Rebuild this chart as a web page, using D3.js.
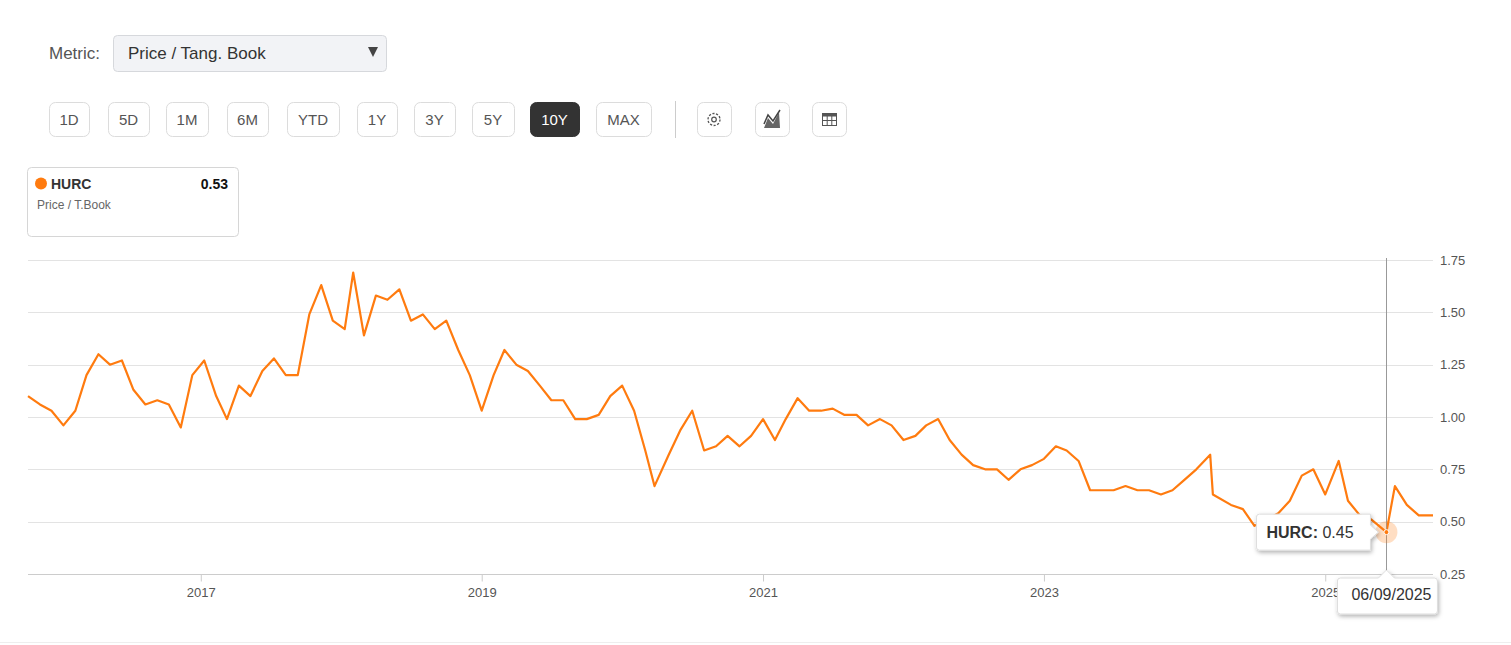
<!DOCTYPE html>
<html lang="en">
<head>
<meta charset="utf-8">
<title>HURC Price / Tang. Book</title>
<script src="https://cdn.jsdelivr.net/npm/d3@7/dist/d3.min.js"></script>
<style>
  body { margin: 0; background: #fff; font-family: "Liberation Sans", Arial, sans-serif; }
  svg text { font-family: "Liberation Sans", Arial, sans-serif; }
</style>
</head>
<body>
<script>
// data (monthly, plus a few peaks/troughs)
var dates = [
  "2015-10-10","2015-11-10","2015-12-10","2016-01-10","2016-02-10","2016-03-10","2016-04-10","2016-05-10","2016-06-10","2016-07-10","2016-08-10","2016-09-10","2016-10-10","2016-11-10","2016-12-10",
  "2017-01-10","2017-02-10","2017-03-10","2017-04-10","2017-05-10","2017-06-10","2017-07-10","2017-08-10","2017-09-10","2017-10-10","2017-11-10","2017-12-10",
  "2018-01-10","2018-02-01","2018-03-01","2018-04-01","2018-05-01","2018-06-01","2018-07-01","2018-08-01","2018-09-01","2018-10-01","2018-11-01","2018-12-01",
  "2019-01-01","2019-02-01","2019-03-01","2019-04-01","2019-05-01","2019-06-01","2019-07-01","2019-08-01","2019-09-01","2019-10-01","2019-11-01","2019-12-01",
  "2020-01-01","2020-02-01","2020-03-01","2020-03-25","2020-05-01","2020-06-01","2020-07-01","2020-08-01","2020-09-01","2020-10-01","2020-11-01","2020-12-01",
  "2021-01-01","2021-02-01","2021-03-01","2021-04-01","2021-05-01","2021-06-01","2021-07-01","2021-08-01","2021-09-01","2021-10-01","2021-11-01","2021-12-01",
  "2022-01-01","2022-02-01","2022-03-01","2022-04-01","2022-05-01","2022-06-01","2022-07-01","2022-08-01","2022-09-01","2022-10-01","2022-11-01","2022-12-01",
  "2023-01-01","2023-02-01","2023-03-01","2023-04-01","2023-05-01","2023-06-01","2023-07-01","2023-08-01","2023-09-01","2023-10-01","2023-11-01","2023-12-01",
  "2024-01-01","2024-02-01","2024-03-08","2024-03-15","2024-05-01","2024-06-01","2024-07-01","2024-08-01","2024-09-01","2024-10-01","2024-11-01","2024-12-01",
  "2025-01-01","2025-02-05","2025-03-01","2025-04-01","2025-05-01","2025-06-09","2025-07-01","2025-08-01","2025-09-01","2025-10-08"
];
var values = [
  1.10,1.06,1.03,0.96,1.03,1.20,1.30,1.25,1.27,1.13,1.06,1.08,1.06,0.95,1.20,
  1.27,1.10,0.99,1.15,1.10,1.22,1.28,1.20,1.20,1.49,1.63,1.46,
  1.42,1.69,1.39,1.58,1.56,1.61,1.46,1.49,1.42,1.46,1.32,1.20,
  1.03,1.20,1.32,1.25,1.22,1.15,1.08,1.08,0.99,0.99,1.01,1.10,
  1.15,1.03,0.84,0.67,0.82,0.94,1.03,0.84,0.86,0.91,0.86,0.91,
  0.99,0.89,0.99,1.09,1.03,1.03,1.04,1.01,1.01,0.96,0.99,0.96,
  0.89,0.91,0.96,0.99,0.89,0.82,0.77,0.75,0.75,0.70,0.75,0.77,
  0.80,0.86,0.84,0.79,0.65,0.65,0.65,0.67,0.65,0.65,0.63,0.65,
  0.70,0.75,0.82,0.63,0.58,0.56,0.48,0.51,0.54,0.60,0.72,0.75,
  0.63,0.79,0.60,0.53,0.51,0.45,0.67,0.58,0.53,0.53
];
var yTicks = [0.25, 0.5, 0.75, 1.0, 1.25, 1.5, 1.75];
var xTickYears = [2017, 2019, 2021, 2023, 2025];
var rangeButtons = ["1D","5D","1M","6M","YTD","1Y","3Y","5Y","10Y","MAX"];
var activeRange = "10Y";
var hoverDate = "2025-06-09";
var hoverValue = 0.45;
var lastValue = 0.53;

var W = 1511, H = 645;
var orange = "#ff7b0f";
var parse = d3.timeParse("%Y-%m-%d");
var series = dates.map(function(d, i) { return { date: parse(d), value: values[i] }; });

var svg = d3.select("body").append("svg").attr("width", W).attr("height", H);

// metric selector
svg.append("text").attr("x", 49).attr("y", 59).attr("font-size", 17).attr("fill", "#555").text("Metric:");
svg.append("rect").attr("x", 113.5).attr("y", 35.5).attr("width", 273).attr("height", 36).attr("rx", 4)
  .attr("fill", "#f2f3f6").attr("stroke", "#d6d8dc");
svg.append("text").attr("x", 128).attr("y", 59).attr("font-size", 17).attr("fill", "#333").text("Price / Tang. Book");
svg.append("path").attr("d", "M368,47 L378,47 L373,57 Z").attr("fill", "#444");

// range buttons
var btnX = [49,108,166,227,287,357,414,472,530,596];
var btnW = [40,41,42,41,52,40,41,42,49,55];
var btn = svg.selectAll("g.btn").data(rangeButtons).enter().append("g").attr("class", "btn");
btn.append("rect")
  .attr("x", function(d, i) { return btnX[i] + 0.5; }).attr("y", 102.5)
  .attr("width", function(d, i) { return btnW[i]; }).attr("height", 34).attr("rx", 6)
  .attr("fill", function(d) { return d === activeRange ? "#333" : "#fff"; })
  .attr("stroke", function(d) { return d === activeRange ? "#333" : "#dcdcdc"; });
btn.append("text")
  .attr("x", function(d, i) { return btnX[i] + btnW[i] / 2; }).attr("y", 125)
  .attr("text-anchor", "middle").attr("font-size", 15)
  .attr("fill", function(d) { return d === activeRange ? "#fff" : "#555"; })
  .text(function(d) { return d; });
svg.append("line").attr("x1", 675.5).attr("x2", 675.5).attr("y1", 101).attr("y2", 138).attr("stroke", "#ccc");
[697, 755, 812].forEach(function(x) {
  svg.append("rect").attr("x", x + 0.5).attr("y", 102.5).attr("width", 34).attr("height", 34).attr("rx", 6)
    .attr("fill", "#fff").attr("stroke", "#dcdcdc");
});
// gear icon
svg.append("circle").attr("cx", 714).attr("cy", 119.5).attr("r", 6).attr("fill", "none").attr("stroke", "#555").attr("stroke-width", 1.3).attr("stroke-dasharray", "2.2 1.5");
svg.append("circle").attr("cx", 714).attr("cy", 119.5).attr("r", 2.3).attr("fill", "none").attr("stroke", "#555").attr("stroke-width", 1.2);
// chart icon
svg.append("path").attr("d", "M764,128 L768,118 L773,124 L779,112 L780,128 Z").attr("fill", "#666");
svg.append("path").attr("d", "M764,124 L768,115 L773,121 L780,110").attr("fill", "none").attr("stroke", "#444").attr("stroke-width", 1.5);
// table icon
svg.append("rect").attr("x", 822.5).attr("y", 113.5).attr("width", 14).attr("height", 12).attr("fill", "none").attr("stroke", "#555");
svg.append("rect").attr("x", 822.5).attr("y", 113.5).attr("width", 14).attr("height", 3).attr("fill", "#555");
[827.2, 831.8].forEach(function(x) { svg.append("line").attr("x1", x).attr("x2", x).attr("y1", 116).attr("y2", 126).attr("stroke", "#555"); });
svg.append("line").attr("x1", 822).attr("x2", 837).attr("y1", 120.5).attr("y2", 120.5).attr("stroke", "#555");

// legend card
svg.append("rect").attr("x", 27.5).attr("y", 167.5).attr("width", 211).attr("height", 69).attr("rx", 4)
  .attr("fill", "#fff").attr("stroke", "#d6d6d6");
svg.append("circle").attr("cx", 41).attr("cy", 183.5).attr("r", 6).attr("fill", orange);
svg.append("text").attr("x", 51).attr("y", 189).attr("font-size", 14).attr("font-weight", "bold").attr("fill", "#333").text("HURC");
svg.append("text").attr("x", 228).attr("y", 189).attr("text-anchor", "end").attr("font-size", 14).attr("font-weight", "bold").attr("fill", "#111").text(lastValue.toFixed(2));
svg.append("text").attr("x", 37).attr("y", 209).attr("font-size", 12).attr("fill", "#666").text("Price / T.Book");

// plot
var plotL = 28, plotR = 1433, plotT = 260, plotB = 574;
var x = d3.scaleTime().domain([parse("2015-10-10"), parse("2025-10-08")]).range([plotL, plotR]);
var y = d3.scaleLinear().domain([0.25, 1.75]).range([plotB, plotT]);

svg.append("g").selectAll("line").data(yTicks).enter().append("line")
  .attr("x1", plotL).attr("x2", plotR)
  .attr("y1", function(d) { return Math.round(y(d)) + 0.5; }).attr("y2", function(d) { return Math.round(y(d)) + 0.5; })
  .attr("stroke", function(d) { return d === 0.25 ? "#ccc" : "#e3e3e3"; });

var yAxis = d3.axisRight(y).tickValues(yTicks).tickSize(0).tickPadding(7).tickFormat(d3.format(".2f"));
var gy = svg.append("g").attr("transform", "translate(" + plotR + ",0)").call(yAxis);
gy.select(".domain").remove();
gy.selectAll("text").attr("font-size", 13).attr("fill", "#555");

var xAxis = d3.axisBottom(x)
  .tickValues(xTickYears.map(function(yr) { return new Date(yr, 0, 1); }))
  .tickSize(7).tickPadding(6).tickFormat(d3.timeFormat("%Y"));
var gx = svg.append("g").attr("transform", "translate(0," + (plotB + 0.5) + ")").call(xAxis);
gx.select(".domain").remove();
gx.selectAll("line").attr("stroke", "#ccc");
gx.selectAll("text").attr("font-size", 13).attr("fill", "#555");

var line = d3.line().x(function(d) { return x(d.date); }).y(function(d) { return y(d.value); });
svg.append("path").datum(series).attr("d", line)
  .attr("fill", "none").attr("stroke", orange).attr("stroke-width", 2.2).attr("stroke-linejoin", "round");

// hover state
var hx = x(parse(hoverDate)), hy = y(hoverValue);
svg.append("line").attr("x1", Math.round(hx) + 0.5).attr("x2", Math.round(hx) + 0.5).attr("y1", plotT - 2).attr("y2", plotB + 2)
  .attr("stroke", "#999");
svg.append("circle").attr("cx", hx).attr("cy", hy).attr("r", 11).attr("fill", orange).attr("opacity", 0.25);
svg.append("circle").attr("cx", hx).attr("cy", hy).attr("r", 2.5).attr("fill", orange).attr("stroke", "#fff");

var defs = svg.append("defs");
var f = defs.append("filter").attr("id", "sh").attr("x", "-20%").attr("y", "-30%").attr("width", "140%").attr("height", "170%");
f.append("feDropShadow").attr("dx", 1).attr("dy", 2).attr("stdDeviation", 2).attr("flood-opacity", 0.3);

var tx = hx - 12;
svg.append("path")
  .attr("d", "M" + (tx - 115) + "," + (hy - 18) + " h111 v11 l8,7 l-8,7 v11 h-111 a3,3 0 0 1 -3,-3 v-30 a3,3 0 0 1 3,-3 z")
  .attr("fill", "#fff").attr("stroke", "#ddd").attr("filter", "url(#sh)");
var tt = svg.append("text").attr("x", tx - 108).attr("y", hy + 6).attr("font-size", 16).attr("fill", "#333");
tt.append("tspan").attr("font-weight", "bold").text("HURC: ");
tt.append("tspan").text(hoverValue.toFixed(2));

var by = 572;
svg.append("path")
  .attr("d", "M" + (hx - 46) + "," + (by + 6) + " h38 l8,-8 l8,8 h40 a3,3 0 0 1 3,3 v30 a3,3 0 0 1 -3,3 h-94 a3,3 0 0 1 -3,-3 v-30 a3,3 0 0 1 3,-3 z")
  .attr("fill", "#fff").attr("stroke", "#ddd").attr("filter", "url(#sh)");
svg.append("text").attr("x", hx + 5).attr("y", by + 28).attr("text-anchor", "middle").attr("font-size", 16).attr("fill", "#333").text("06/09/2025");

svg.append("line").attr("x1", 0).attr("x2", W).attr("y1", 642.5).attr("y2", 642.5).attr("stroke", "#eee");
</script>
</body>
</html>
